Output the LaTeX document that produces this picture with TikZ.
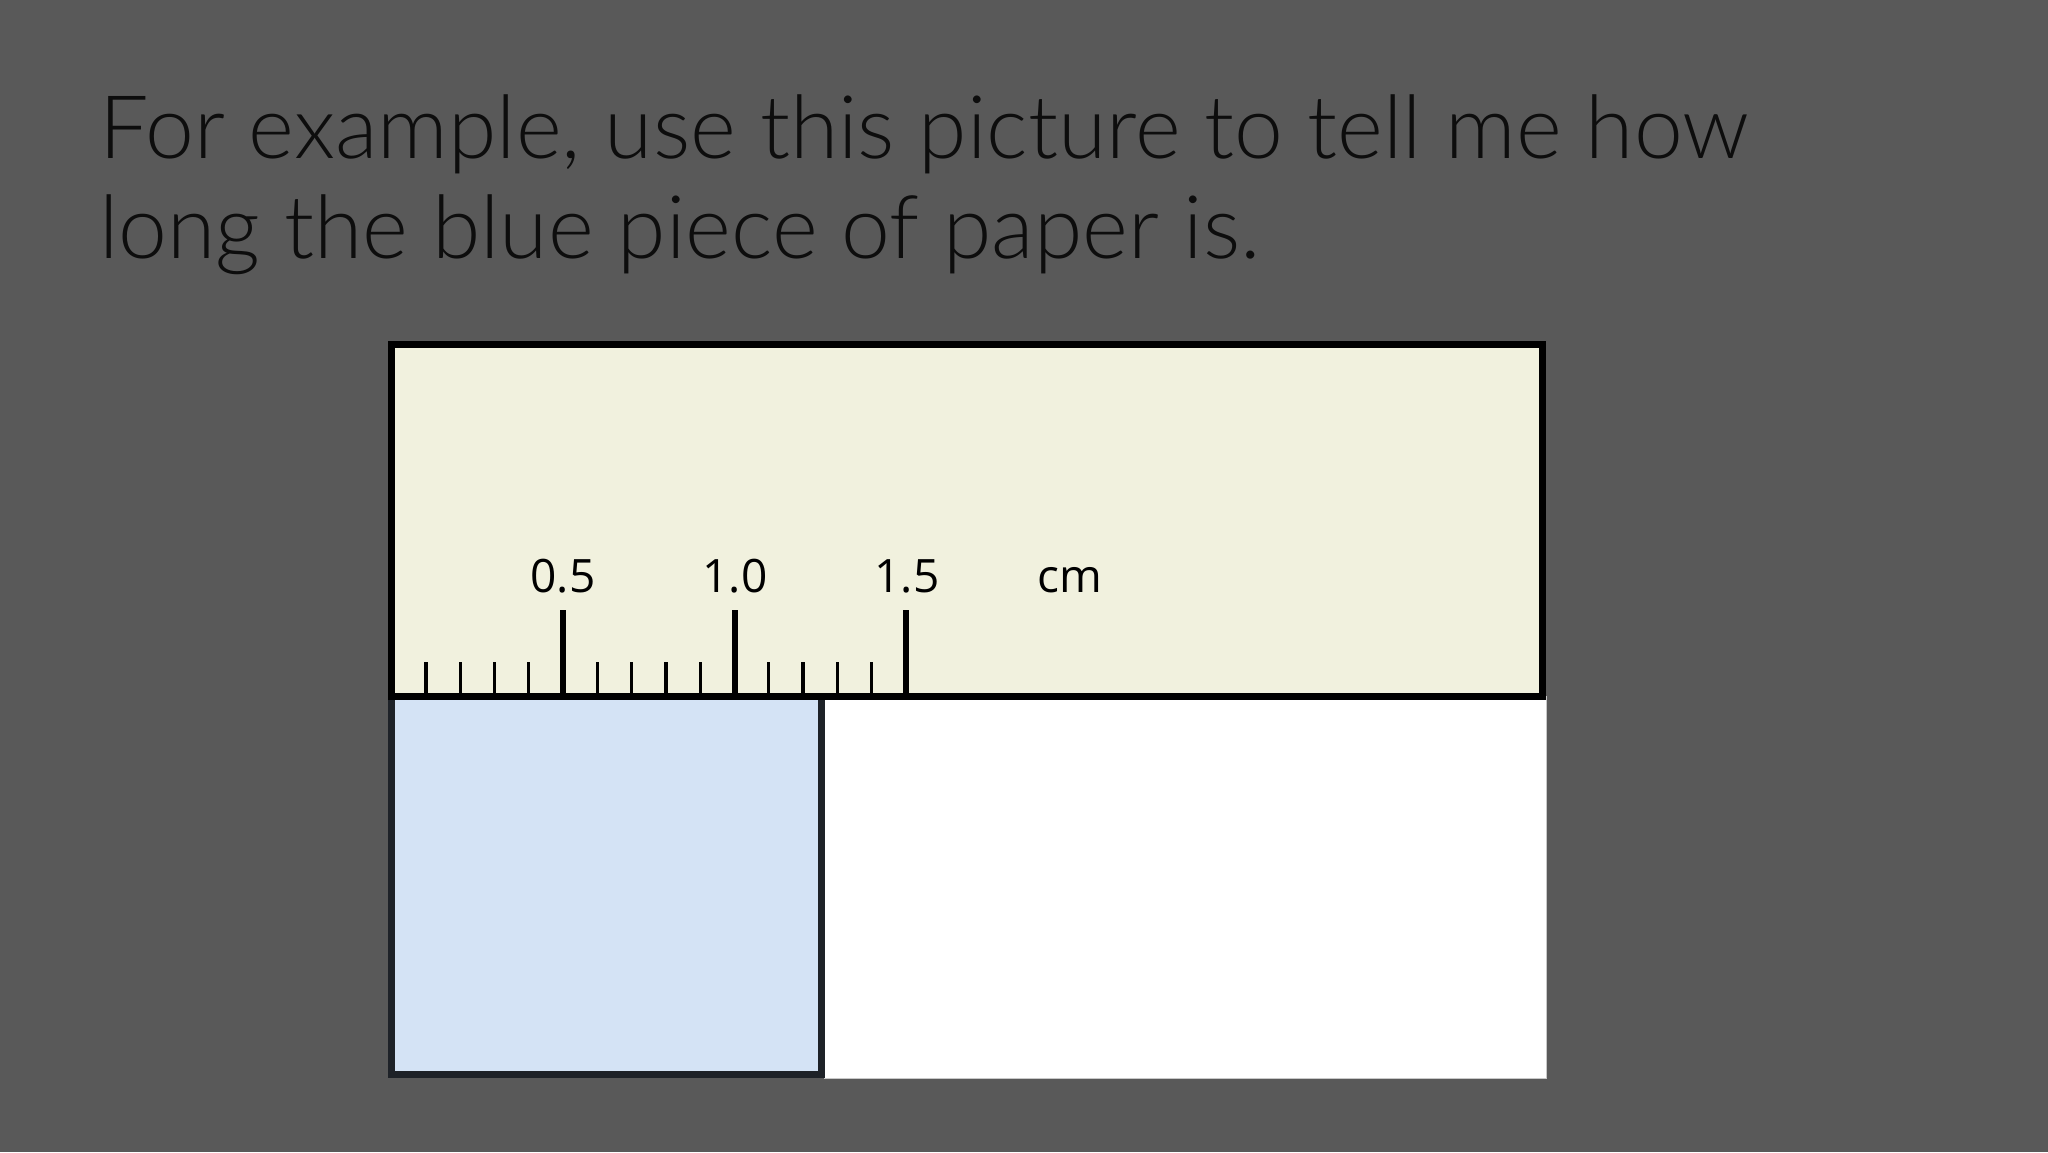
\documentclass[tikz,border=0pt]{standalone}
\usepackage{fontspec}
\setmainfont{Lato}[UprightFont=* Light]
\newfontfamily\labelfont{Open Sans}
\definecolor{slidebg}{HTML}{595959}
\definecolor{titlecol}{HTML}{0D0D0D}
\definecolor{rulerfill}{HTML}{F1F1DE}
\definecolor{bluefill}{HTML}{D4E3F5}
\definecolor{blueedge}{HTML}{1E2228}
\definecolor{paperedge}{HTML}{C8C8C8}
\tikzset{
  titletext/.style={anchor=base west, inner sep=0pt, text=titlecol, font=\fontsize{87.7}{100}\selectfont},
  scaletext/.style={anchor=base, inner sep=0pt, text=black, font=\labelfont\fontsize{46}{50}\selectfont},
  minortick/.style={draw=black, line width=3.3pt},
  majortick/.style={draw=black, line width=6pt},
}
\begin{document}
\begin{tikzpicture}[x=1pt,y=-1pt]
\fill[slidebg] (0,0) rectangle (2048,1152);
\useasboundingbox (0,0) rectangle (2048,1152);
% title
\node[titletext] (t1) at (99,158) {For example, use this picture to tell me how};
\node[titletext] (t2) at (99,258) {long the blue piece of paper is.};
% white paper
\fill[white, draw=paperedge, line width=1pt] (824,696) rectangle (1546,1078);
% blue paper
\fill[bluefill] (391.5,696) rectangle (821,1074.5);
\draw[blueedge, line width=7pt] (821,696) -- (821,1074.5) -- (391.5,1074.5) -- (391.5,696);
% ruler
\draw[black, fill=rulerfill, line width=7pt] (391.5,344.5) rectangle (1542.5,696);
% ticks
\foreach \i in {1,2,3,4,6,7,8,9,11,12,13,14}{
  \draw[minortick] ({391.6+\i*34.29},662) -- ({391.6+\i*34.29},696);
}
\foreach \i in {5,10,15}{
  \draw[majortick] ({391.6+\i*34.29},610) -- ({391.6+\i*34.29},696);
}
\node[scaletext] (l05) at (563,592) {0.5};
\node[scaletext] (l10) at (735,592) {1.0};
\node[scaletext] (l15) at (907,592) {1.5};
\node[scaletext] (lcm) at (1070,592) {cm};
\end{tikzpicture}
\end{document}
